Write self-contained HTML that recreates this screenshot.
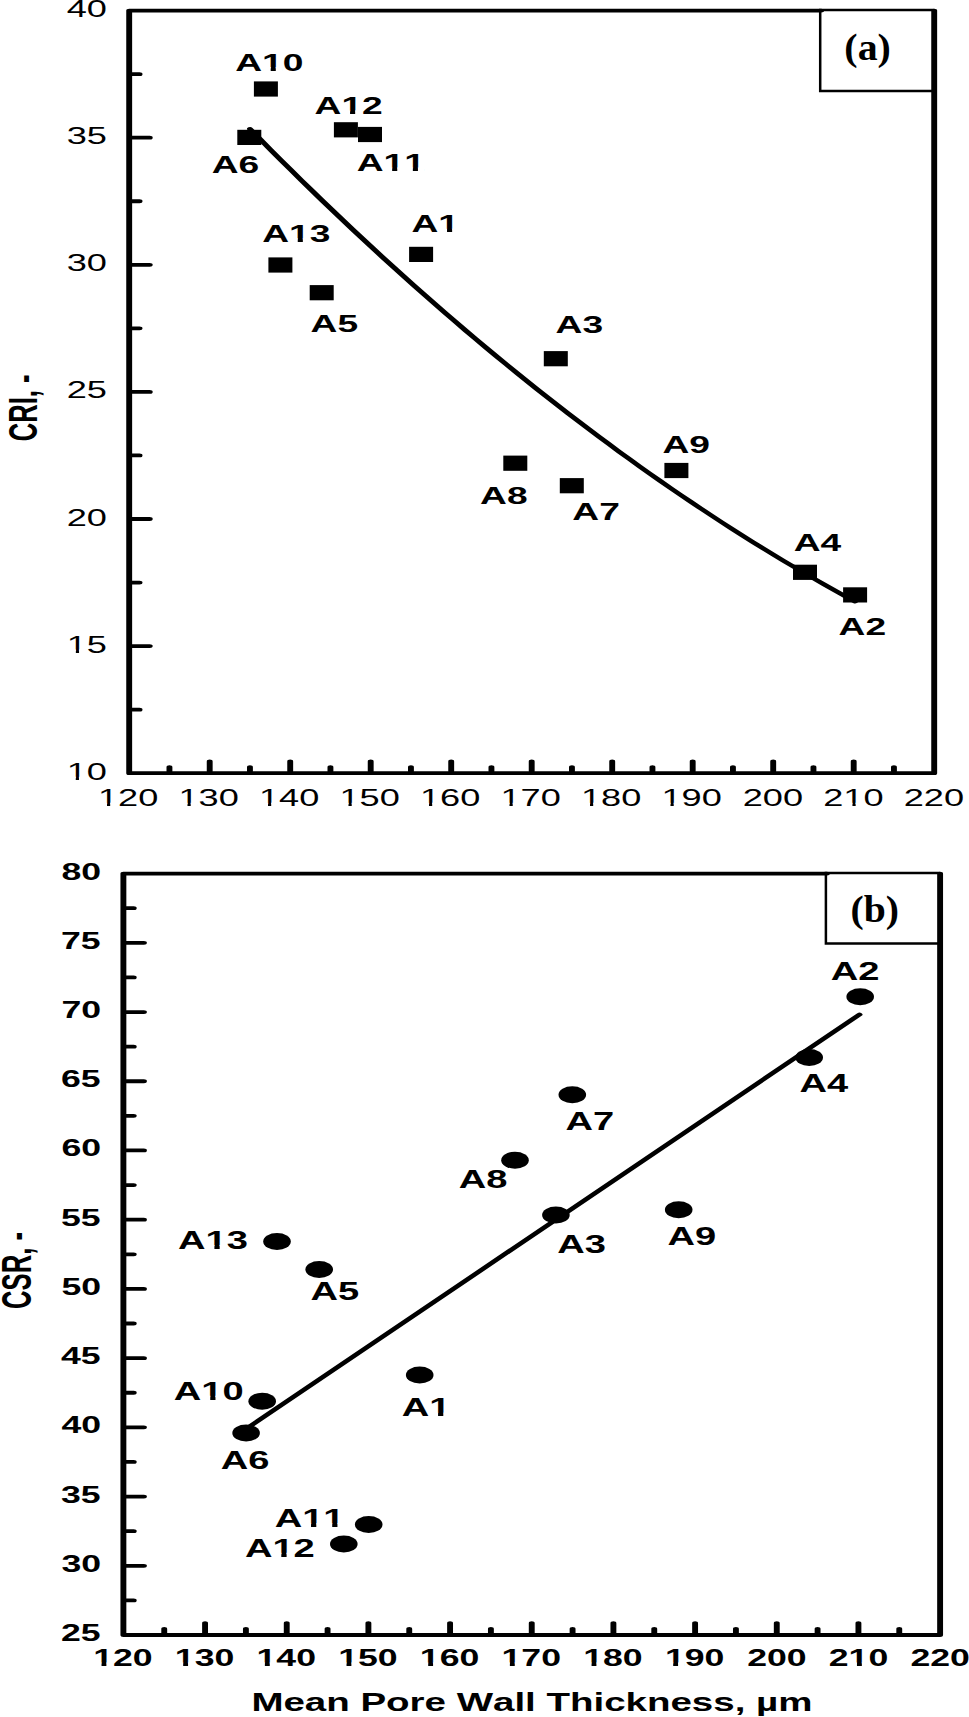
<!DOCTYPE html><html><head><meta charset="utf-8"><title>CRI and CSR vs Mean Pore Wall Thickness</title><style>html,body{margin:0;padding:0;background:#fff;width:969px;height:1717px;overflow:hidden}svg{display:block}text{fill:#000;font-family:"Liberation Sans",Arial,sans-serif;font-kerning:none;font-feature-settings:"kern" 0}text.b{font-weight:bold}text.s{font-family:"Liberation Serif","Times New Roman",serif;font-weight:bold}</style></head><body>
<svg width="969" height="1717" viewBox="0 0 969 1717">
<rect width="969" height="1717" fill="#fff"/>
<g transform="scale(1.55 1)" fill="none" stroke="#000" stroke-width="3.8" stroke-linejoin="round" stroke-linecap="round">
<path d="M529.81 10.6H83.35V773.2H602.71V10.6"/>
<path d="M85.29 709.65H90.04M85.29 646.1H96.62M85.29 582.55H90.04M85.29 519H96.62M85.29 455.45H90.04M85.29 391.9H96.62M85.29 328.35H90.04M85.29 264.8H96.62M85.29 201.25H90.04M85.29 137.7H96.62M85.29 74.15H90.04M109.32 771.2V767.2M135.29 771.2V761.4M161.26 771.2V767.2M187.23 771.2V761.4M213.19 771.2V767.2M239.16 771.2V761.4M265.13 771.2V767.2M291.1 771.2V761.4M317.06 771.2V767.2M343.03 771.2V761.4M369 771.2V767.2M394.97 771.2V761.4M420.94 771.2V767.2M446.9 771.2V761.4M472.87 771.2V767.2M498.84 771.2V761.4M524.81 771.2V767.2M550.77 771.2V761.4M576.74 771.2V767.2"/>
</g>
<path d="M934.2 9.95H820.2V91H934.2" fill="none" stroke="#000" stroke-width="2.5"/>
<text class="r" font-size="23.8" transform="translate(66.66 779.79) scale(1.52 1)" clip-path="url(#c1)">10</text>
<text class="r" font-size="23.8" transform="translate(66.76 652.57) scale(1.52 1)" clip-path="url(#c2)">15</text>
<text class="r" font-size="23.8" transform="translate(66.66 525.59) scale(1.52 1)">20</text>
<text class="r" font-size="23.8" transform="translate(66.76 398.49) scale(1.52 1)">25</text>
<text class="r" font-size="23.8" transform="translate(66.66 271.39) scale(1.52 1)">30</text>
<text class="r" font-size="23.8" transform="translate(66.76 144.29) scale(1.52 1)">35</text>
<text class="r" font-size="23.8" transform="translate(66.66 17.19) scale(1.52 1)">40</text>
<text class="r" font-size="23.8" transform="translate(97.9 805.79) scale(1.52 1)" clip-path="url(#c3)">120</text>
<text class="r" font-size="23.8" transform="translate(178.4 805.79) scale(1.52 1)" clip-path="url(#c4)">130</text>
<text class="r" font-size="23.8" transform="translate(258.9 805.79) scale(1.52 1)" clip-path="url(#c5)">140</text>
<text class="r" font-size="23.8" transform="translate(339.4 805.79) scale(1.52 1)" clip-path="url(#c6)">150</text>
<text class="r" font-size="23.8" transform="translate(419.9 805.79) scale(1.52 1)" clip-path="url(#c7)">160</text>
<text class="r" font-size="23.8" transform="translate(500.4 805.79) scale(1.52 1)" clip-path="url(#c8)">170</text>
<text class="r" font-size="23.8" transform="translate(580.9 805.79) scale(1.52 1)" clip-path="url(#c9)">180</text>
<text class="r" font-size="23.8" transform="translate(661.4 805.79) scale(1.52 1)" clip-path="url(#c10)">190</text>
<text class="r" font-size="23.8" transform="translate(742.73 805.79) scale(1.52 1)">200</text>
<text class="r" font-size="23.8" transform="translate(823.23 805.79) scale(1.52 1)" clip-path="url(#c11)">210</text>
<text class="r" font-size="23.8" transform="translate(903.73 805.79) scale(1.52 1)">220</text>
<text class="s" font-size="38.7" transform="translate(844.36 59.76) scale(1.03 1)">(a)</text>
<polyline transform="scale(1.55 1)" points="161.29,128.92 167.91,139.34 174.52,149.67 181.14,159.92 187.75,170.08 194.37,180.17 200.98,190.17 207.6,200.08 214.22,209.92 220.83,219.67 227.45,229.34 234.06,238.92 240.68,248.43 247.29,257.85 253.91,267.18 260.52,276.44 267.14,285.61 273.76,294.7 280.37,303.71 286.99,312.63 293.6,321.47 300.22,330.23 306.83,338.9 313.45,347.49 320.07,356 326.68,364.43 333.3,372.77 339.91,381.03 346.53,389.21 353.14,397.3 359.76,405.31 366.38,413.24 372.99,421.09 379.61,428.85 386.22,436.53 392.84,444.12 399.45,451.64 406.07,459.07 412.68,466.42 419.3,473.68 425.92,480.87 432.53,487.97 439.15,494.98 445.76,501.92 452.38,508.77 458.99,515.54 465.61,522.22 472.23,528.82 478.84,535.34 485.46,541.78 492.07,548.13 498.69,554.4 505.3,560.59 511.92,566.7 518.53,572.72 525.15,578.66 531.77,584.52 538.38,590.29 545,595.98 551.61,601.59" fill="none" stroke="#000" stroke-width="3.8" stroke-linecap="round" stroke-linejoin="round"/>
<g fill="#000"><rect x="253.9" y="81.4" width="24.0" height="15.2"/><rect x="237.3" y="129.8" width="24.0" height="15.2"/><rect x="333.9" y="122.2" width="24.0" height="15.2"/><rect x="358" y="126.9" width="24.0" height="15.2"/><rect x="268.4" y="257.4" width="24.0" height="15.2"/><rect x="309.7" y="285.1" width="24.0" height="15.2"/><rect x="409.1" y="246.8" width="24.0" height="15.2"/><rect x="543.8" y="351.1" width="24.0" height="15.2"/><rect x="503.3" y="455.6" width="24.0" height="15.2"/><rect x="559.8" y="478.1" width="24.0" height="15.2"/><rect x="664.4" y="462.9" width="24.0" height="15.2"/><rect x="793" y="564.7" width="24.0" height="15.2"/><rect x="843.1" y="587.3" width="24.0" height="15.2"/></g>
<text class="b" font-size="24.3" transform="translate(235.15 70.66) scale(1.53 1)" clip-path="url(#c12)">A10</text>
<text class="b" font-size="24.3" transform="translate(314.54 114.13) scale(1.53 1)" clip-path="url(#c13)">A12</text>
<text class="b" font-size="24.3" transform="translate(211.75 173.41) scale(1.53 1)">A6</text>
<text class="b" font-size="24.3" transform="translate(356.63 171.21) scale(1.53 1)" clip-path="url(#c14)">A11</text>
<text class="b" font-size="24.3" transform="translate(262.21 242.05) scale(1.53 1)" clip-path="url(#c15)">A13</text>
<text class="b" font-size="24.3" transform="translate(310.55 332.34) scale(1.53 1)">A5</text>
<text class="b" font-size="24.3" transform="translate(411.52 232.41) scale(1.53 1)" clip-path="url(#c16)">A1</text>
<text class="b" font-size="24.3" transform="translate(555.6 333.45) scale(1.53 1)">A3</text>
<text class="b" font-size="24.3" transform="translate(480.05 503.66) scale(1.53 1)">A8</text>
<text class="b" font-size="24.3" transform="translate(572.3 520.11) scale(1.53 1)">A7</text>
<text class="b" font-size="24.3" transform="translate(662.47 452.76) scale(1.53 1)">A9</text>
<text class="b" font-size="24.3" transform="translate(793.77 550.71) scale(1.53 1)">A4</text>
<text class="b" font-size="24.3" transform="translate(838.57 635.08) scale(1.53 1)">A2</text>
<text class="b" font-size="25.6" transform="translate(36.7 441.25) rotate(-90) scale(1 1.59)">CRI, -</text>
<g transform="scale(1.55 1)" fill="none" stroke="#000" stroke-width="3.8" stroke-linejoin="round" stroke-linecap="round">
<path d="M533.48 873.6H79.61V1635H606.52V873.6"/>
<path d="M81.55 1600.39H86.29M81.55 1565.78H92.87M81.55 1531.17H86.29M81.55 1496.56H92.87M81.55 1461.95H86.29M81.55 1427.35H92.87M81.55 1392.74H86.29M81.55 1358.13H92.87M81.55 1323.52H86.29M81.55 1288.91H92.87M81.55 1254.3H86.29M81.55 1219.69H92.87M81.55 1185.08H86.29M81.55 1150.47H92.87M81.55 1115.86H86.29M81.55 1081.25H92.87M81.55 1046.65H86.29M81.55 1012.04H92.87M81.55 977.43H86.29M81.55 942.82H92.87M81.55 908.21H86.29M105.96 1633V1629M132.3 1633V1623.2M158.65 1633V1629M184.99 1633V1623.2M211.34 1633V1629M237.68 1633V1623.2M264.03 1633V1629M290.37 1633V1623.2M316.72 1633V1629M343.06 1633V1623.2M369.41 1633V1629M395.75 1633V1623.2M422.1 1633V1629M448.45 1633V1623.2M474.79 1633V1629M501.14 1633V1623.2M527.48 1633V1629M553.83 1633V1623.2M580.17 1633V1629"/>
</g>
<path d="M940.1 872.95H825.9V943.4H940.1" fill="none" stroke="#000" stroke-width="2.5"/>
<text class="b" font-size="23" transform="translate(60.96 1641.01) scale(1.55 1)">25</text>
<text class="b" font-size="23" transform="translate(61.42 1571.78) scale(1.55 1)">30</text>
<text class="b" font-size="23" transform="translate(60.96 1502.56) scale(1.55 1)">35</text>
<text class="b" font-size="23" transform="translate(61.42 1433.36) scale(1.55 1)">40</text>
<text class="b" font-size="23" transform="translate(60.96 1364.02) scale(1.55 1)">45</text>
<text class="b" font-size="23" transform="translate(61.42 1294.92) scale(1.55 1)">50</text>
<text class="b" font-size="23" transform="translate(60.96 1225.59) scale(1.55 1)">55</text>
<text class="b" font-size="23" transform="translate(61.42 1156.48) scale(1.55 1)">60</text>
<text class="b" font-size="23" transform="translate(60.96 1087.27) scale(1.55 1)">65</text>
<text class="b" font-size="23" transform="translate(61.42 1018.05) scale(1.55 1)">70</text>
<text class="b" font-size="23" transform="translate(60.96 948.72) scale(1.55 1)">75</text>
<text class="b" font-size="23" transform="translate(61.42 879.61) scale(1.55 1)">80</text>
<text class="b" font-size="23" transform="translate(93.19 1666.01) scale(1.55 1)" clip-path="url(#c17)">120</text>
<text class="b" font-size="23" transform="translate(174.86 1666) scale(1.55 1)" clip-path="url(#c18)">130</text>
<text class="b" font-size="23" transform="translate(256.53 1666.01) scale(1.55 1)" clip-path="url(#c19)">140</text>
<text class="b" font-size="23" transform="translate(338.2 1666.01) scale(1.55 1)" clip-path="url(#c20)">150</text>
<text class="b" font-size="23" transform="translate(419.87 1666.01) scale(1.55 1)" clip-path="url(#c21)">160</text>
<text class="b" font-size="23" transform="translate(501.54 1666.01) scale(1.55 1)" clip-path="url(#c22)">170</text>
<text class="b" font-size="23" transform="translate(583.21 1666.01) scale(1.55 1)" clip-path="url(#c23)">180</text>
<text class="b" font-size="23" transform="translate(664.88 1666.01) scale(1.55 1)" clip-path="url(#c24)">190</text>
<text class="b" font-size="23" transform="translate(747.13 1666.01) scale(1.55 1)">200</text>
<text class="b" font-size="23" transform="translate(828.8 1666.01) scale(1.55 1)" clip-path="url(#c25)">210</text>
<text class="b" font-size="23" transform="translate(910.47 1666.01) scale(1.55 1)">220</text>
<text class="s" font-size="38.5" transform="translate(850.57 921.51) scale(1.03 1)">(b)</text>
<line transform="scale(1.55 1)" x1="159.35" y1="1428.3" x2="554.52" y2="1014.5" stroke="#000" stroke-width="3.8" stroke-linecap="round"/>
<g fill="#000"><ellipse cx="277" cy="1241.6" rx="13.8" ry="8.5"/><ellipse cx="319.2" cy="1269.4" rx="13.8" ry="8.5"/><ellipse cx="262.2" cy="1401.2" rx="13.8" ry="8.5"/><ellipse cx="246.1" cy="1433" rx="13.8" ry="8.5"/><ellipse cx="419.7" cy="1374.9" rx="13.8" ry="8.5"/><ellipse cx="368.7" cy="1524.6" rx="13.8" ry="8.5"/><ellipse cx="343.8" cy="1543.9" rx="13.8" ry="8.5"/><ellipse cx="572.3" cy="1094.7" rx="13.8" ry="8.5"/><ellipse cx="515" cy="1160.2" rx="13.8" ry="8.5"/><ellipse cx="555.9" cy="1215.1" rx="13.8" ry="8.5"/><ellipse cx="678.7" cy="1209.8" rx="13.8" ry="8.5"/><ellipse cx="860.2" cy="996.8" rx="13.8" ry="8.5"/><ellipse cx="809.2" cy="1057.5" rx="13.8" ry="8.5"/></g>
<text class="b" font-size="24.9" transform="translate(178.02 1248.9) scale(1.53 1)" clip-path="url(#c26)">A13</text>
<text class="b" font-size="24.9" transform="translate(310.38 1300.09) scale(1.53 1)">A5</text>
<text class="b" font-size="24.9" transform="translate(173.86 1399.62) scale(1.53 1)" clip-path="url(#c27)">A10</text>
<text class="b" font-size="24.9" transform="translate(220.63 1468.97) scale(1.53 1)">A6</text>
<text class="b" font-size="24.9" transform="translate(401.66 1416.47) scale(1.53 1)" clip-path="url(#c28)">A1</text>
<text class="b" font-size="24.9" transform="translate(274.65 1527.02) scale(1.53 1)" clip-path="url(#c29)">A11</text>
<text class="b" font-size="24.9" transform="translate(244.94 1556.54) scale(1.53 1)" clip-path="url(#c30)">A12</text>
<text class="b" font-size="24.9" transform="translate(565.48 1129.62) scale(1.53 1)">A7</text>
<text class="b" font-size="24.9" transform="translate(458.78 1188.27) scale(1.53 1)">A8</text>
<text class="b" font-size="24.9" transform="translate(557.13 1252.55) scale(1.53 1)">A3</text>
<text class="b" font-size="24.9" transform="translate(667.5 1244.62) scale(1.53 1)">A9</text>
<text class="b" font-size="24.9" transform="translate(830.65 979.99) scale(1.53 1)">A2</text>
<text class="b" font-size="24.9" transform="translate(799.39 1091.77) scale(1.53 1)">A4</text>
<text class="b" font-size="25.7" transform="translate(31.2 1309.05) rotate(-90) scale(1 1.66)">CSR, -</text>
<text class="b" font-size="25" transform="translate(251.42 1710.9) scale(1.54 1)">Mean Pore Wall Thickness, µm</text>
<defs><clipPath id="c1" clipPathUnits="userSpaceOnUse"><path clip-rule="evenodd" d="M-23.8 -35.7H50.27V14.28H-23.8ZM1.1 -2.97H5.98V1.9H1.1ZM8.09 -2.97H12.79V1.9H8.09Z"/></clipPath><clipPath id="c2" clipPathUnits="userSpaceOnUse"><path clip-rule="evenodd" d="M-23.8 -35.7H50.27V14.28H-23.8ZM1.1 -2.97H5.98V1.9H1.1ZM8.09 -2.97H12.79V1.9H8.09Z"/></clipPath><clipPath id="c3" clipPathUnits="userSpaceOnUse"><path clip-rule="evenodd" d="M-23.8 -35.7H63.51V14.28H-23.8ZM1.1 -2.97H5.98V1.9H1.1ZM8.09 -2.97H12.79V1.9H8.09Z"/></clipPath><clipPath id="c4" clipPathUnits="userSpaceOnUse"><path clip-rule="evenodd" d="M-23.8 -35.7H63.51V14.28H-23.8ZM1.1 -2.97H5.98V1.9H1.1ZM8.09 -2.97H12.79V1.9H8.09Z"/></clipPath><clipPath id="c5" clipPathUnits="userSpaceOnUse"><path clip-rule="evenodd" d="M-23.8 -35.7H63.51V14.28H-23.8ZM1.1 -2.97H5.98V1.9H1.1ZM8.09 -2.97H12.79V1.9H8.09Z"/></clipPath><clipPath id="c6" clipPathUnits="userSpaceOnUse"><path clip-rule="evenodd" d="M-23.8 -35.7H63.51V14.28H-23.8ZM1.1 -2.97H5.98V1.9H1.1ZM8.09 -2.97H12.79V1.9H8.09Z"/></clipPath><clipPath id="c7" clipPathUnits="userSpaceOnUse"><path clip-rule="evenodd" d="M-23.8 -35.7H63.51V14.28H-23.8ZM1.1 -2.97H5.98V1.9H1.1ZM8.09 -2.97H12.79V1.9H8.09Z"/></clipPath><clipPath id="c8" clipPathUnits="userSpaceOnUse"><path clip-rule="evenodd" d="M-23.8 -35.7H63.51V14.28H-23.8ZM1.1 -2.97H5.98V1.9H1.1ZM8.09 -2.97H12.79V1.9H8.09Z"/></clipPath><clipPath id="c9" clipPathUnits="userSpaceOnUse"><path clip-rule="evenodd" d="M-23.8 -35.7H63.51V14.28H-23.8ZM1.1 -2.97H5.98V1.9H1.1ZM8.09 -2.97H12.79V1.9H8.09Z"/></clipPath><clipPath id="c10" clipPathUnits="userSpaceOnUse"><path clip-rule="evenodd" d="M-23.8 -35.7H63.51V14.28H-23.8ZM1.1 -2.97H5.98V1.9H1.1ZM8.09 -2.97H12.79V1.9H8.09Z"/></clipPath><clipPath id="c11" clipPathUnits="userSpaceOnUse"><path clip-rule="evenodd" d="M-23.8 -35.7H63.51V14.28H-23.8ZM14.34 -2.97H19.22V1.9H14.34ZM21.32 -2.97H26.02V1.9H21.32Z"/></clipPath><clipPath id="c12" clipPathUnits="userSpaceOnUse"><path clip-rule="evenodd" d="M-24.3 -36.45H68.88V14.58H-24.3ZM18.35 -3.69H23.22V1.94H18.35ZM26.55 -3.69H31.12V1.94H26.55Z"/></clipPath><clipPath id="c13" clipPathUnits="userSpaceOnUse"><path clip-rule="evenodd" d="M-24.3 -36.45H68.88V14.58H-24.3ZM18.35 -3.69H23.22V1.94H18.35ZM26.55 -3.69H31.12V1.94H26.55Z"/></clipPath><clipPath id="c14" clipPathUnits="userSpaceOnUse"><path clip-rule="evenodd" d="M-24.3 -36.45H68.88V14.58H-24.3ZM18.35 -3.69H23.22V1.94H18.35ZM26.55 -3.69H31.12V1.94H26.55ZM31.86 -3.69H36.73V1.94H31.86ZM40.07 -3.69H44.63V1.94H40.07Z"/></clipPath><clipPath id="c15" clipPathUnits="userSpaceOnUse"><path clip-rule="evenodd" d="M-24.3 -36.45H68.88V14.58H-24.3ZM18.35 -3.69H23.22V1.94H18.35ZM26.55 -3.69H31.12V1.94H26.55Z"/></clipPath><clipPath id="c16" clipPathUnits="userSpaceOnUse"><path clip-rule="evenodd" d="M-24.3 -36.45H55.36V14.58H-24.3ZM18.35 -3.69H23.22V1.94H18.35ZM26.55 -3.69H31.12V1.94H26.55Z"/></clipPath><clipPath id="c17" clipPathUnits="userSpaceOnUse"><path clip-rule="evenodd" d="M-23 -34.5H61.37V13.8H-23ZM0.76 -3.5H5.37V1.84H0.76ZM8.52 -3.5H12.84V1.84H8.52Z"/></clipPath><clipPath id="c18" clipPathUnits="userSpaceOnUse"><path clip-rule="evenodd" d="M-23 -34.5H61.37V13.8H-23ZM0.76 -3.5H5.37V1.84H0.76ZM8.52 -3.5H12.84V1.84H8.52Z"/></clipPath><clipPath id="c19" clipPathUnits="userSpaceOnUse"><path clip-rule="evenodd" d="M-23 -34.5H61.37V13.8H-23ZM0.76 -3.5H5.37V1.84H0.76ZM8.52 -3.5H12.84V1.84H8.52Z"/></clipPath><clipPath id="c20" clipPathUnits="userSpaceOnUse"><path clip-rule="evenodd" d="M-23 -34.5H61.37V13.8H-23ZM0.76 -3.5H5.37V1.84H0.76ZM8.52 -3.5H12.84V1.84H8.52Z"/></clipPath><clipPath id="c21" clipPathUnits="userSpaceOnUse"><path clip-rule="evenodd" d="M-23 -34.5H61.37V13.8H-23ZM0.76 -3.5H5.37V1.84H0.76ZM8.52 -3.5H12.84V1.84H8.52Z"/></clipPath><clipPath id="c22" clipPathUnits="userSpaceOnUse"><path clip-rule="evenodd" d="M-23 -34.5H61.37V13.8H-23ZM0.76 -3.5H5.37V1.84H0.76ZM8.52 -3.5H12.84V1.84H8.52Z"/></clipPath><clipPath id="c23" clipPathUnits="userSpaceOnUse"><path clip-rule="evenodd" d="M-23 -34.5H61.37V13.8H-23ZM0.76 -3.5H5.37V1.84H0.76ZM8.52 -3.5H12.84V1.84H8.52Z"/></clipPath><clipPath id="c24" clipPathUnits="userSpaceOnUse"><path clip-rule="evenodd" d="M-23 -34.5H61.37V13.8H-23ZM0.76 -3.5H5.37V1.84H0.76ZM8.52 -3.5H12.84V1.84H8.52Z"/></clipPath><clipPath id="c25" clipPathUnits="userSpaceOnUse"><path clip-rule="evenodd" d="M-23 -34.5H61.37V13.8H-23ZM13.55 -3.5H18.16V1.84H13.55ZM21.32 -3.5H25.63V1.84H21.32Z"/></clipPath><clipPath id="c26" clipPathUnits="userSpaceOnUse"><path clip-rule="evenodd" d="M-24.9 -37.35H70.58V14.94H-24.9ZM18.8 -3.79H23.79V1.99H18.8ZM27.21 -3.79H31.88V1.99H27.21Z"/></clipPath><clipPath id="c27" clipPathUnits="userSpaceOnUse"><path clip-rule="evenodd" d="M-24.9 -37.35H70.58V14.94H-24.9ZM18.8 -3.79H23.79V1.99H18.8ZM27.21 -3.79H31.88V1.99H27.21Z"/></clipPath><clipPath id="c28" clipPathUnits="userSpaceOnUse"><path clip-rule="evenodd" d="M-24.9 -37.35H56.73V14.94H-24.9ZM18.8 -3.79H23.79V1.99H18.8ZM27.21 -3.79H31.88V1.99H27.21Z"/></clipPath><clipPath id="c29" clipPathUnits="userSpaceOnUse"><path clip-rule="evenodd" d="M-24.9 -37.35H70.58V14.94H-24.9ZM18.8 -3.79H23.79V1.99H18.8ZM27.21 -3.79H31.88V1.99H27.21ZM32.65 -3.79H37.64V1.99H32.65ZM41.06 -3.79H45.73V1.99H41.06Z"/></clipPath><clipPath id="c30" clipPathUnits="userSpaceOnUse"><path clip-rule="evenodd" d="M-24.9 -37.35H70.58V14.94H-24.9ZM18.8 -3.79H23.79V1.99H18.8ZM27.21 -3.79H31.88V1.99H27.21Z"/></clipPath></defs>
</svg></body></html>
